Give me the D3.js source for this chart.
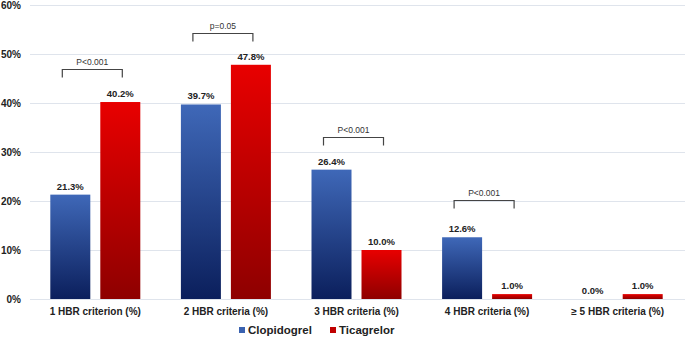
<!DOCTYPE html>
<html><head><meta charset="utf-8">
<script src="https://cdn.jsdelivr.net/npm/d3@7"></script>
<style>body{margin:0;background:#fff;font-family:"Liberation Sans",Arial,sans-serif;}</style>
</head><body><svg id="c" width="685" height="339"></svg>
<script>
const categories = ["1 HBR criterion (%)","2 HBR criteria (%)","3 HBR criteria (%)","4 HBR criteria (%)","\u2265 5 HBR criteria (%)"];
const seriesNames = ["Clopidogrel","Ticagrelor"];
const clopidogrel = [21.3,39.7,26.4,12.6,0.0];
const ticagrelor = [40.2,47.8,10.0,1.0,1.0];
const pLabels = ["P<0.001","p=0.05","P<0.001","P<0.001",null];
const pLevels = [46.9,54.3,33.0,20.2,null];
const yTicks = [0,10,20,30,40,50,60];

const svg = d3.select("#c");
const m = {l:30, r:2, t:5, b:40};
const W = 685, H = 339;
const FF = "Liberation Sans, Arial, sans-serif";
const x = d3.scaleBand().domain(categories).range([m.l, W-m.r]);
const y = d3.scaleLinear().domain([0,60]).range([H-m.b, m.t]);

const defs = svg.append("defs");
const gb = defs.append("linearGradient").attr("id","gb").attr("x1",0).attr("y1",0).attr("x2",0).attr("y2",1);
gb.append("stop").attr("offset","0%").attr("stop-color","#3f68b8");
gb.append("stop").attr("offset","100%").attr("stop-color","#0b1f5c");
const gr = defs.append("linearGradient").attr("id","gr").attr("x1",0).attr("y1",0).attr("x2",0).attr("y2",1);
gr.append("stop").attr("offset","0%").attr("stop-color","#e80000");
gr.append("stop").attr("offset","100%").attr("stop-color","#8e0000");

// gridlines
svg.append("g").selectAll("line").data(yTicks).join("line")
  .attr("x1",m.l).attr("x2",W).attr("y1",d=>Math.round(y(d))+0.5).attr("y2",d=>Math.round(y(d))+0.5)
  .attr("stroke","#dfe4ec").attr("stroke-width",1);

// y axis labels
const yAxis = d3.axisLeft(y).tickValues(yTicks).tickFormat(d=>d+"%").tickSize(0).tickPadding(9);
const ya = svg.append("g").attr("transform",`translate(${m.l},0)`).call(yAxis);
ya.select(".domain").remove();
ya.selectAll("text").attr("font-family",FF).attr("font-size",10).attr("font-weight","bold").attr("fill","#222");

// x axis labels
const xAxis = d3.axisBottom(x).tickSize(0).tickPadding(9);
const xa = svg.append("g").attr("transform",`translate(0,${H-m.b})`).call(xAxis);
xa.select(".domain").remove();
xa.selectAll("text").attr("font-family",FF).attr("font-size",10).attr("font-weight","bold").attr("fill","#222");

const data = categories.map((c,i)=>({c, vals:[{s:seriesNames[0],v:clopidogrel[i]},{s:seriesNames[1],v:ticagrelor[i]}]}));
const bw = 40;
const off = {Clopidogrel: x.bandwidth()/2 - 45, Ticagrelor: x.bandwidth()/2 + 5};
const fill = {Clopidogrel:"url(#gb)", Ticagrelor:"url(#gr)"};

const g = svg.append("g").selectAll("g").data(data).join("g").attr("transform",d=>`translate(${x(d.c)},0)`);
g.selectAll("rect").data(d=>d.vals.filter(e=>e.v>0)).join("rect")
  .attr("x",d=>off[d.s]).attr("width",bw)
  .attr("y",d=>y(d.v)).attr("height",d=>y(0)-y(d.v))
  .attr("fill",d=>fill[d.s]);
g.selectAll("text.v").data(d=>d.vals).join("text").attr("class","v")
  .attr("x",d=>off[d.s]+bw/2).attr("y",d=>y(d.v)-5)
  .attr("text-anchor","middle").attr("font-family",FF).attr("font-size",9.5).attr("font-weight","bold").attr("fill","#222")
  .text(d=>d.v.toFixed(1)+"%");

// p-value brackets
const br = svg.append("g");
categories.forEach((c,i)=>{
  if(pLabels[i]==null) return;
  const cx = x(c)+x.bandwidth()/2;
  const yy = Math.round(y(pLevels[i]))+0.5;
  const x1 = cx-33, x2 = cx+27;
  br.append("path").attr("d",`M${x1},${yy+8}V${yy}H${x2}V${yy+8}`).attr("fill","none").attr("stroke","#444").attr("stroke-width",1.2);
  br.append("text").attr("x",(x1+x2)/2).attr("y",yy-5).attr("text-anchor","middle").attr("font-family",FF).attr("font-size",8.5).attr("fill","#333").text(pLabels[i]);
});

// legend
const lg = svg.append("g").attr("transform","translate(0,330)");
const lx = [239, 330];
seriesNames.forEach((s,i)=>{
  lg.append("rect").attr("x",lx[i]).attr("y",-3).attr("width",6).attr("height",6).attr("fill",i==0?"#3a62b0":"#c00000");
  lg.append("text").attr("x",lx[i]+9).attr("y",4).attr("font-family",FF).attr("font-size",11.5).attr("font-weight","bold").attr("fill","#222").text(s);
});
</script></body></html>
